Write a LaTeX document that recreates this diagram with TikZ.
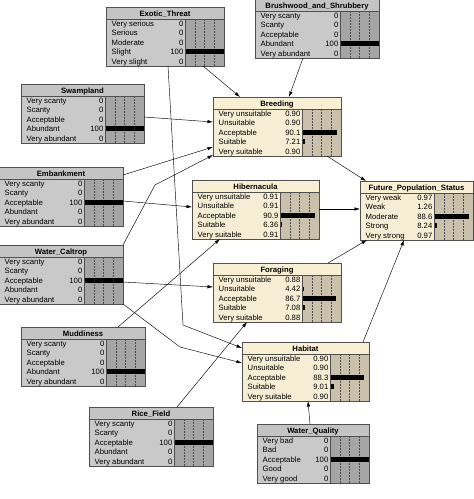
\documentclass[tikz,border=0pt]{standalone}
\usepackage{fontspec}
\usepackage{tikz}
\usetikzlibrary{positioning, arrows.meta}

\newfontfamily\netfont{Liberation Sans}

\definecolor{greyfill}{RGB}{201,201,201}
\definecolor{greytitle}{RGB}{196,196,196}
\definecolor{greybar}{RGB}{165,165,165}
\definecolor{creamfill}{RGB}{246,238,212}
\definecolor{creamtitle}{RGB}{249,240,212}
\definecolor{creambar}{RGB}{201,193,172}
\definecolor{boxedge}{RGB}{80,80,80}

% one Netica style box: name, x, y, width, kind, title, rows
\newcommand{\bbnbox}[7]{%
  \begin{scope}[shift={(#2,#3)}]
    \pgfmathsetmacro{\bx}{#4-39}
    \node[minimum width=#4pt, minimum height=59pt, inner sep=0pt, outer sep=0pt,
          anchor=north west] (#1) at (0,0) {};
    \fill[#5fill] (0,0) rectangle (#4,59);
    \fill[#5title] (0,0) rectangle (#4,12);
    \fill[#5bar] (\bx,12) rectangle (#4,59);
    \foreach \t in {0.25,0.5,0.75}
      \draw[barline] (\bx+39*\t,12) -- (\bx+39*\t,59);
    \node[titletext] at (#4/2,9.4) {#6};
    \foreach \lab/\val [count=\i] in {#7} {
      \node[rowtext, anchor=base west] at (5.5,12+9.4*\i-2.0) {\lab};
      \node[rowtext, anchor=base east] at (\bx-1.5,12+9.4*\i-2.0) {\val};
      \fill (\bx,12+9.4*\i-7.2) rectangle ++(0.39*\val,4.6);
    }
    \draw[boxline] (0,0) rectangle (#4,59);
    \draw[boxline] (0,12) -- (#4,12);
    \draw[boxline] (\bx,12) -- (\bx,59);
  \end{scope}}

\begin{document}
\begin{tikzpicture}[x=1pt, y=-1pt,
                    >={Latex[length=5.5pt,width=3.4pt]},
                    link/.style={->, line width=0.45pt},
                    boxline/.style={draw=boxedge, line width=0.6pt},
                    barline/.style={draw=black!70, line width=0.35pt, dash pattern=on 1.6pt off 1.4pt},
                    titletext/.style={inner sep=0pt, anchor=base, font=\netfont\bfseries\fontsize{7.7}{8}\selectfont},
                    rowtext/.style={inner sep=0pt, font=\netfont\fontsize{7.7}{8}\selectfont}]

\clip (0,0) rectangle (474,499);

% input nodes
\bbnbox{exotic}{106}{7}{118}{grey}{Exotic\_Threat}{Very serious/0, Serious/0, Moderate/0, Slight/100, Very slight/0}
\bbnbox{brush}{255}{-1}{124}{grey}{Brushwood\_and\_Shrubbery}{Very scanty/0, Scanty/0, Acceptable/0, Abundant/100, Very abundant/0}
\bbnbox{swamp}{21}{84}{123}{grey}{Swampland}{Very scanty/0, Scanty/0, Acceptable/0, Abundant/100, Very abundant/0}
\bbnbox{emb}{-1}{167}{124}{grey}{Embankment}{Very scanty/0, Scanty/0, Acceptable/100, Abundant/0, Very abundant/0}
\bbnbox{caltrop}{-1}{245}{124}{grey}{Water\_Caltrop}{Very scanty/0, Scanty/0, Acceptable/100, Abundant/0, Very abundant/0}
\bbnbox{mud}{21}{327}{124}{grey}{Muddiness}{Very scanty/0, Scanty/0, Acceptable/0, Abundant/100, Very abundant/0}
\bbnbox{rice}{89}{407}{124}{grey}{Rice\_Field}{Very scanty/0, Scanty/0, Acceptable/100, Abundant/0, Very abundant/0}
\bbnbox{wq}{257}{424}{112}{grey}{Water\_Quality}{Very bad/0, Bad/0, Acceptable/100, Good/0, Very good/0}

% derived nodes
\bbnbox{breed}{213}{97}{128}{cream}{Breeding}{Very unsuitable/0.90, Unsuitable/0.90, Acceptable/90.1, Suitable/7.21, Very suitable/0.90}
\bbnbox{hiber}{192}{180}{127}{cream}{Hibernacula}{Very unsuitable/0.91, Unsuitable/0.91, Acceptable/90.9, Suitable/6.36, Very suitable/0.91}
\bbnbox{forag}{213}{263}{128}{cream}{Foraging}{Very unsuitable/0.88, Unsuitable/4.42, Acceptable/86.7, Suitable/7.08, Very suitable/0.88}
\bbnbox{habit}{242}{342}{127}{cream}{Habitat}{Very unsuitable/0.90, Unsuitable/0.90, Acceptable/88.3, Suitable/9.01, Very suitable/0.90}
\bbnbox{future}{360}{181}{113}{cream}{Future\_Population\_Status}{Very weak/0.97, Weak/1.26, Moderate/88.6, Strong/8.24, Very strong/0.97}

% bends of the long links
\coordinate (bendA) at (183,325);
\coordinate (bendB) at (155,185);
\coordinate (bendC) at (180,347);

\draw[link] ([xshift=97pt]exotic.south west) -- ([xshift=27pt]breed.north west);
\draw[link] ([xshift=62pt]exotic.south west) -- (bendA) -- ([yshift=-6pt]habit.north west);
\draw[link] ([xshift=48pt]brush.south west) -- ([xshift=76pt]breed.north west);
\draw[link] ([yshift=-33pt]swamp.north east) -- ([yshift=-25pt]breed.north west);
\draw[link] ([yshift=-8pt]emb.north east) -- ([yshift=-50pt]breed.north west);
\draw[link] (caltrop.north east) -- (bendB) -- ([yshift=1pt]breed.south west);
\draw[link] ([yshift=-34pt]emb.north east) -- ([yshift=-27pt]hiber.north west);
\draw[link] ([yshift=-37pt]caltrop.north east) -- ([yshift=-24pt]forag.north west);
\draw[link] (caltrop.south east) -- (bendC) -- ([yshift=-21pt]habit.north west);
\draw[link] ([xshift=97pt]mud.north west) -- ([xshift=28pt]hiber.south west);
\draw[link] ([xshift=88pt]rice.north west) -- ([xshift=34pt]forag.south west);
\draw[link] ([xshift=53pt]wq.north west) -- ([xshift=66pt]habit.south west);
\draw[link] ([xshift=114pt]breed.south west) -- ([xshift=6pt]future.north west);
\draw[link] ([yshift=-29pt]hiber.north east) -- ([yshift=-28pt]future.north west);
\draw[link] ([xshift=115pt]forag.north west) -- ([xshift=7pt]future.south west);
\draw[link] ([xshift=121pt]habit.north west) -- ([xshift=44pt]future.south west);
\end{tikzpicture}
\end{document}
